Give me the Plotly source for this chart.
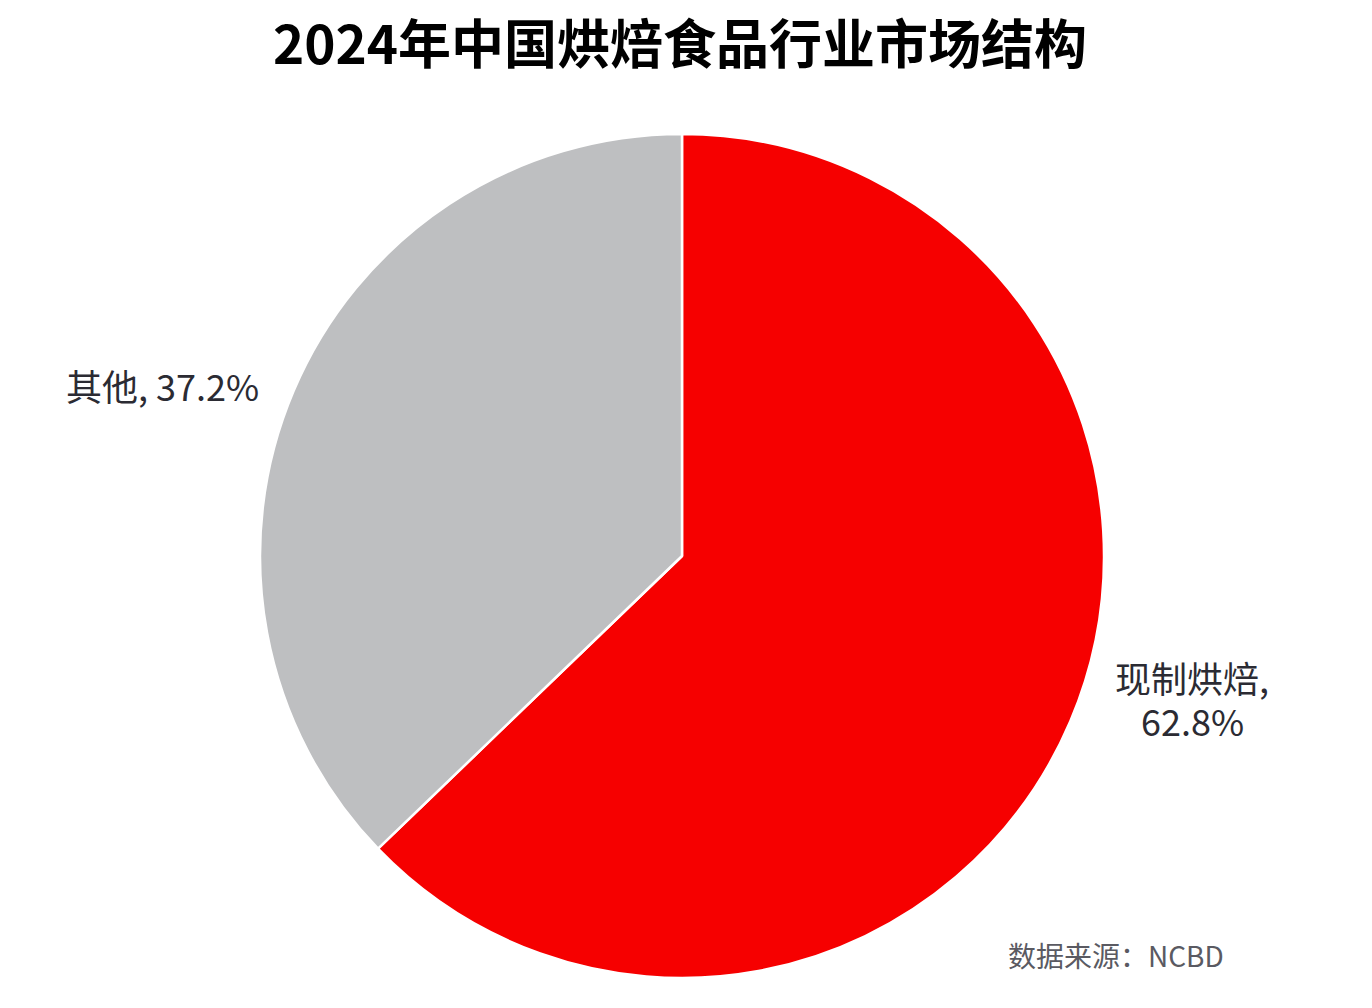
import plotly.graph_objects as go

title = "2024年中国烘焙食品行业市场结构"
labels = ["现制烘焙", "其他"]
values = [62.8, 37.2]
colors = ["#F60000", "#BEBFC1"]
source = "数据来源：NCBD"

W, H = 1372, 1008
cx, cy, r = 682, 556, 422

fig = go.Figure(go.Pie(
    labels=labels,
    values=values,
    sort=False,
    direction="clockwise",
    rotation=0,
    marker=dict(colors=colors, line=dict(color="white", width=2.5)),
    textinfo="none",
    hoverinfo="label+percent",
    showlegend=False,
    domain=dict(x=[(cx - r) / W, (cx + r) / W], y=[1 - (cy + r) / H, 1 - (cy - r) / H]),
))

font_family = "Noto Sans CJK SC, Noto Sans, sans-serif"
label_font = dict(family=font_family, size=36, color="#2b2b33")

fig.add_annotation(
    text=f"{labels[1]}, {values[1]}%",
    x=162 / W, y=1 - 385 / H, xref="paper", yref="paper",
    showarrow=False, xanchor="center", yanchor="middle",
    font=label_font,
)
fig.add_annotation(
    text=f"{labels[0]},",
    x=1192 / W, y=1 - 677 / H, xref="paper", yref="paper",
    showarrow=False, xanchor="center", yanchor="middle",
    font=label_font,
)
fig.add_annotation(
    text=f"{values[0]}%",
    x=1192 / W, y=1 - 720 / H, xref="paper", yref="paper",
    showarrow=False, xanchor="center", yanchor="middle",
    font=label_font,
)
fig.add_annotation(
    text=source,
    x=1116 / W, y=1 - 955 / H, xref="paper", yref="paper",
    showarrow=False, xanchor="center", yanchor="middle",
    font=dict(family=font_family, size=28, color="#5a5a62"),
)

fig.update_layout(
    width=W, height=H,
    margin=dict(l=0, r=0, t=0, b=0),
    paper_bgcolor="white",
    plot_bgcolor="white",
    title=dict(
        text=f"<b>{title}</b>",
        x=680 / W, xanchor="center", y=1 - 45 / H, yanchor="middle",
        font=dict(family=font_family, size=53, color="black"),
    ),
)

fig.write_html("out.html")
